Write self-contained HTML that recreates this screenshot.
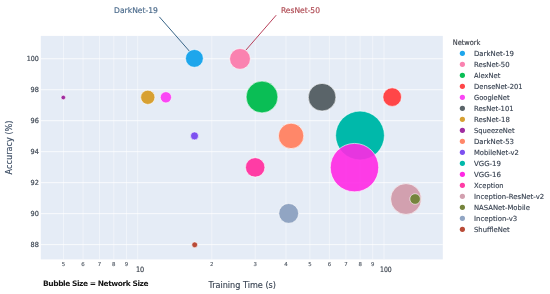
<!DOCTYPE html>
<html><head><meta charset="utf-8"><style>
html,body{margin:0;padding:0;background:#fff;width:550px;height:294px;overflow:hidden}
svg{display:block;filter:blur(0.35px);font-family:"DejaVu Sans","Liberation Sans",sans-serif}
</style></head><body>
<svg width="550" height="294" viewBox="0 0 550 294">
<rect x="0" y="0" width="550" height="294" fill="#fff"/>
<rect x="40.8" y="35.9" width="402.0" height="223.5" fill="#e5ecf6"/>
<line x1="63.56" y1="35.9" x2="63.56" y2="259.4" stroke="#fff" stroke-opacity="0.6" stroke-width="0.75"/>
<line x1="83.06" y1="35.9" x2="83.06" y2="259.4" stroke="#fff" stroke-opacity="0.6" stroke-width="0.75"/>
<line x1="99.55" y1="35.9" x2="99.55" y2="259.4" stroke="#fff" stroke-opacity="0.6" stroke-width="0.75"/>
<line x1="113.83" y1="35.9" x2="113.83" y2="259.4" stroke="#fff" stroke-opacity="0.6" stroke-width="0.75"/>
<line x1="126.43" y1="35.9" x2="126.43" y2="259.4" stroke="#fff" stroke-opacity="0.6" stroke-width="0.75"/>
<line x1="137.70" y1="35.9" x2="137.70" y2="259.4" stroke="#fff" stroke-opacity="0.6" stroke-width="0.75"/>
<line x1="211.84" y1="35.9" x2="211.84" y2="259.4" stroke="#fff" stroke-opacity="0.6" stroke-width="0.75"/>
<line x1="255.21" y1="35.9" x2="255.21" y2="259.4" stroke="#fff" stroke-opacity="0.6" stroke-width="0.75"/>
<line x1="285.99" y1="35.9" x2="285.99" y2="259.4" stroke="#fff" stroke-opacity="0.6" stroke-width="0.75"/>
<line x1="309.86" y1="35.9" x2="309.86" y2="259.4" stroke="#fff" stroke-opacity="0.6" stroke-width="0.75"/>
<line x1="329.36" y1="35.9" x2="329.36" y2="259.4" stroke="#fff" stroke-opacity="0.6" stroke-width="0.75"/>
<line x1="345.85" y1="35.9" x2="345.85" y2="259.4" stroke="#fff" stroke-opacity="0.6" stroke-width="0.75"/>
<line x1="360.13" y1="35.9" x2="360.13" y2="259.4" stroke="#fff" stroke-opacity="0.6" stroke-width="0.75"/>
<line x1="372.73" y1="35.9" x2="372.73" y2="259.4" stroke="#fff" stroke-opacity="0.6" stroke-width="0.75"/>
<line x1="384.00" y1="35.9" x2="384.00" y2="259.4" stroke="#fff" stroke-opacity="0.6" stroke-width="0.75"/>
<line x1="40.8" y1="58.75" x2="442.8" y2="58.75" stroke="#fff" stroke-opacity="0.85" stroke-width="0.9"/>
<line x1="40.8" y1="89.73" x2="442.8" y2="89.73" stroke="#fff" stroke-opacity="0.85" stroke-width="0.9"/>
<line x1="40.8" y1="120.71" x2="442.8" y2="120.71" stroke="#fff" stroke-opacity="0.85" stroke-width="0.9"/>
<line x1="40.8" y1="151.69" x2="442.8" y2="151.69" stroke="#fff" stroke-opacity="0.85" stroke-width="0.9"/>
<line x1="40.8" y1="182.67" x2="442.8" y2="182.67" stroke="#fff" stroke-opacity="0.85" stroke-width="0.9"/>
<line x1="40.8" y1="213.65" x2="442.8" y2="213.65" stroke="#fff" stroke-opacity="0.85" stroke-width="0.9"/>
<line x1="40.8" y1="244.63" x2="442.8" y2="244.63" stroke="#fff" stroke-opacity="0.85" stroke-width="0.9"/>
<line x1="159.3" y1="16.8" x2="190.5" y2="52.4" stroke="#3a6688" stroke-width="1.0"/>
<line x1="276.2" y1="15.2" x2="245.1" y2="51" stroke="#b8405a" stroke-width="1.0"/>
<circle cx="194.4" cy="58.4" r="8.90" fill="#1ea6ec" fill-opacity="1" stroke="#fff" stroke-opacity="0.75" stroke-width="0.8"/>
<circle cx="240.0" cy="58.9" r="10.40" fill="#fa82b0" fill-opacity="1" stroke="#fff" stroke-opacity="0.75" stroke-width="0.8"/>
<circle cx="262.0" cy="97.0" r="15.90" fill="#0abe55" fill-opacity="1" stroke="#fff" stroke-opacity="0.75" stroke-width="0.8"/>
<circle cx="392.2" cy="97.1" r="9.30" fill="#ff4648" fill-opacity="1" stroke="#fff" stroke-opacity="0.75" stroke-width="0.8"/>
<circle cx="165.9" cy="97.3" r="5.60" fill="#fa46f5" fill-opacity="1" stroke="#fff" stroke-opacity="0.75" stroke-width="0.8"/>
<circle cx="322.1" cy="97.2" r="13.80" fill="#5a6469" fill-opacity="1" stroke="#fff" stroke-opacity="0.75" stroke-width="0.8"/>
<circle cx="147.8" cy="97.3" r="7.10" fill="#d7a032" fill-opacity="1" stroke="#fff" stroke-opacity="0.75" stroke-width="0.8"/>
<circle cx="63.3" cy="97.5" r="2.30" fill="#a02da0" fill-opacity="1" stroke="#fff" stroke-opacity="0.75" stroke-width="0.8"/>
<circle cx="291.1" cy="135.9" r="12.70" fill="#ff8769" fill-opacity="1" stroke="#fff" stroke-opacity="0.75" stroke-width="0.8"/>
<circle cx="194.5" cy="135.9" r="4.00" fill="#7d50f0" fill-opacity="1" stroke="#fff" stroke-opacity="0.75" stroke-width="0.8"/>
<circle cx="360.0" cy="135.5" r="24.40" fill="#00b9aa" fill-opacity="1" stroke="#fff" stroke-opacity="0.75" stroke-width="0.8"/>
<circle cx="354.5" cy="167.6" r="24.20" fill="#ff28e4" fill-opacity="0.9" stroke="#fff" stroke-opacity="0.75" stroke-width="0.8"/>
<circle cx="255.2" cy="167.4" r="9.70" fill="#ff3ca5" fill-opacity="1" stroke="#fff" stroke-opacity="0.75" stroke-width="0.8"/>
<circle cx="406.0" cy="199.0" r="15.40" fill="#d2a0af" fill-opacity="1" stroke="#fff" stroke-opacity="0.75" stroke-width="0.8"/>
<circle cx="415.1" cy="199.0" r="5.30" fill="#75843c" fill-opacity="1" stroke="#fff" stroke-opacity="0.75" stroke-width="0.8"/>
<circle cx="288.7" cy="213.4" r="9.90" fill="#91a5c3" fill-opacity="1" stroke="#fff" stroke-opacity="0.75" stroke-width="0.8"/>
<circle cx="194.7" cy="244.8" r="2.90" fill="#b94b37" fill-opacity="1" stroke="#fff" stroke-opacity="0.75" stroke-width="0.8"/>
<text x="114.1" y="13.1" font-size="7.9" fill="#4f6e8e" stroke="#4f6e8e" stroke-width="0.2" textLength="43.8" lengthAdjust="spacingAndGlyphs">DarkNet-19</text>
<text x="280.9" y="13.1" font-size="7.9" fill="#b04c55" stroke="#b04c55" stroke-width="0.2" textLength="39.1" lengthAdjust="spacingAndGlyphs">ResNet-50</text>
<text x="38.9" y="61.35" font-size="7.0" fill="#454e5a" stroke="#454e5a" stroke-width="0.22" text-anchor="end" textLength="12.1" lengthAdjust="spacingAndGlyphs">100</text>
<text x="38.9" y="92.33" font-size="7.0" fill="#454e5a" stroke="#454e5a" stroke-width="0.22" text-anchor="end" textLength="8.3" lengthAdjust="spacingAndGlyphs">98</text>
<text x="38.9" y="123.31" font-size="7.0" fill="#454e5a" stroke="#454e5a" stroke-width="0.22" text-anchor="end" textLength="8.3" lengthAdjust="spacingAndGlyphs">96</text>
<text x="38.9" y="154.29" font-size="7.0" fill="#454e5a" stroke="#454e5a" stroke-width="0.22" text-anchor="end" textLength="8.3" lengthAdjust="spacingAndGlyphs">94</text>
<text x="38.9" y="185.27" font-size="7.0" fill="#454e5a" stroke="#454e5a" stroke-width="0.22" text-anchor="end" textLength="8.3" lengthAdjust="spacingAndGlyphs">92</text>
<text x="38.9" y="216.25" font-size="7.0" fill="#454e5a" stroke="#454e5a" stroke-width="0.22" text-anchor="end" textLength="8.3" lengthAdjust="spacingAndGlyphs">90</text>
<text x="38.9" y="247.23" font-size="7.0" fill="#454e5a" stroke="#454e5a" stroke-width="0.22" text-anchor="end" textLength="8.3" lengthAdjust="spacingAndGlyphs">88</text>
<text x="63.56" y="266.3" font-size="5.4" fill="#4c5560" stroke="#4c5560" stroke-width="0.12" text-anchor="middle">5</text>
<text x="83.06" y="266.3" font-size="5.4" fill="#4c5560" stroke="#4c5560" stroke-width="0.12" text-anchor="middle">6</text>
<text x="99.55" y="266.3" font-size="5.4" fill="#4c5560" stroke="#4c5560" stroke-width="0.12" text-anchor="middle">7</text>
<text x="113.83" y="266.3" font-size="5.4" fill="#4c5560" stroke="#4c5560" stroke-width="0.12" text-anchor="middle">8</text>
<text x="126.43" y="266.3" font-size="5.4" fill="#4c5560" stroke="#4c5560" stroke-width="0.12" text-anchor="middle">9</text>
<text x="211.84" y="266.3" font-size="5.4" fill="#4c5560" stroke="#4c5560" stroke-width="0.12" text-anchor="middle">2</text>
<text x="255.21" y="266.3" font-size="5.4" fill="#4c5560" stroke="#4c5560" stroke-width="0.12" text-anchor="middle">3</text>
<text x="285.99" y="266.3" font-size="5.4" fill="#4c5560" stroke="#4c5560" stroke-width="0.12" text-anchor="middle">4</text>
<text x="309.86" y="266.3" font-size="5.4" fill="#4c5560" stroke="#4c5560" stroke-width="0.12" text-anchor="middle">5</text>
<text x="329.36" y="266.3" font-size="5.4" fill="#4c5560" stroke="#4c5560" stroke-width="0.12" text-anchor="middle">6</text>
<text x="345.85" y="266.3" font-size="5.4" fill="#4c5560" stroke="#4c5560" stroke-width="0.12" text-anchor="middle">7</text>
<text x="360.13" y="266.3" font-size="5.4" fill="#4c5560" stroke="#4c5560" stroke-width="0.12" text-anchor="middle">8</text>
<text x="372.73" y="266.3" font-size="5.4" fill="#4c5560" stroke="#4c5560" stroke-width="0.12" text-anchor="middle">9</text>
<text x="140.10" y="271.8" font-size="7.4" fill="#333b46" stroke="#333b46" stroke-width="0.15" text-anchor="middle" textLength="8.3" lengthAdjust="spacingAndGlyphs">10</text>
<text x="385.90" y="271.8" font-size="7.4" fill="#333b46" stroke="#333b46" stroke-width="0.15" text-anchor="middle" textLength="11.8" lengthAdjust="spacingAndGlyphs">100</text>
<text x="208.4" y="287.6" font-size="8.9" fill="#3a4453" stroke="#3a4453" stroke-width="0.15" textLength="67.6" lengthAdjust="spacingAndGlyphs">Training Time (s)</text>
<text x="0" y="0" font-size="8.2" fill="#3c4d64" stroke="#3c4d64" stroke-width="0.15" textLength="53.9" lengthAdjust="spacingAndGlyphs" transform="translate(11.9,174.4) rotate(-90)">Accuracy (%)</text>
<text x="43.1" y="286.0" font-family="DejaVu Sans,sans-serif" font-size="7.5" font-weight="bold" fill="#151515" textLength="105.4" lengthAdjust="spacing">Bubble Size = Network Size</text>
<text x="452.7" y="44.9" font-size="7.4" fill="#3a3f48" stroke="#3a3f48" stroke-width="0.15" textLength="27.7" lengthAdjust="spacingAndGlyphs">Network</text>
<circle cx="462.4" cy="53.30" r="2.6" fill="#1ea6ec"/>
<text x="474" y="55.60" font-size="7.0" fill="#3a4453" stroke="#3a4453" stroke-width="0.15" textLength="40.0" lengthAdjust="spacingAndGlyphs">DarkNet-19</text>
<circle cx="462.4" cy="64.30" r="2.6" fill="#fa82b0"/>
<text x="474" y="66.60" font-size="7.0" fill="#3a4453" stroke="#3a4453" stroke-width="0.15" textLength="35.6" lengthAdjust="spacingAndGlyphs">ResNet-50</text>
<circle cx="462.4" cy="75.30" r="2.6" fill="#0abe55"/>
<text x="474" y="77.60" font-size="7.0" fill="#3a4453" stroke="#3a4453" stroke-width="0.15" textLength="26.3" lengthAdjust="spacingAndGlyphs">AlexNet</text>
<circle cx="462.4" cy="86.30" r="2.6" fill="#ff4648"/>
<text x="474" y="88.60" font-size="7.0" fill="#3a4453" stroke="#3a4453" stroke-width="0.15" textLength="48.6" lengthAdjust="spacingAndGlyphs">DenseNet-201</text>
<circle cx="462.4" cy="97.30" r="2.6" fill="#fa46f5"/>
<text x="474" y="99.60" font-size="7.0" fill="#3a4453" stroke="#3a4453" stroke-width="0.15" textLength="35.6" lengthAdjust="spacingAndGlyphs">GoogleNet</text>
<circle cx="462.4" cy="108.30" r="2.6" fill="#5a6469"/>
<text x="474" y="110.60" font-size="7.0" fill="#3a4453" stroke="#3a4453" stroke-width="0.15" textLength="39.6" lengthAdjust="spacingAndGlyphs">ResNet-101</text>
<circle cx="462.4" cy="119.30" r="2.6" fill="#d7a032"/>
<text x="474" y="121.60" font-size="7.0" fill="#3a4453" stroke="#3a4453" stroke-width="0.15" textLength="35.8" lengthAdjust="spacingAndGlyphs">ResNet-18</text>
<circle cx="462.4" cy="130.30" r="2.6" fill="#a02da0"/>
<text x="474" y="132.60" font-size="7.0" fill="#3a4453" stroke="#3a4453" stroke-width="0.15" textLength="40.6" lengthAdjust="spacingAndGlyphs">SqueezeNet</text>
<circle cx="462.4" cy="141.30" r="2.6" fill="#ff8769"/>
<text x="474" y="143.60" font-size="7.0" fill="#3a4453" stroke="#3a4453" stroke-width="0.15" textLength="40.0" lengthAdjust="spacingAndGlyphs">DarkNet-53</text>
<circle cx="462.4" cy="152.30" r="2.6" fill="#7d50f0"/>
<text x="474" y="154.60" font-size="7.0" fill="#3a4453" stroke="#3a4453" stroke-width="0.15" textLength="44.8" lengthAdjust="spacingAndGlyphs">MobileNet-v2</text>
<circle cx="462.4" cy="163.30" r="2.6" fill="#00b9aa"/>
<text x="474" y="165.60" font-size="7.0" fill="#3a4453" stroke="#3a4453" stroke-width="0.15" textLength="27.0" lengthAdjust="spacingAndGlyphs">VGG-19</text>
<circle cx="462.4" cy="174.30" r="2.6" fill="#ff28e4"/>
<text x="474" y="176.60" font-size="7.0" fill="#3a4453" stroke="#3a4453" stroke-width="0.15" textLength="27.0" lengthAdjust="spacingAndGlyphs">VGG-16</text>
<circle cx="462.4" cy="185.30" r="2.6" fill="#ff3ca5"/>
<text x="474" y="187.60" font-size="7.0" fill="#3a4453" stroke="#3a4453" stroke-width="0.15" textLength="29.6" lengthAdjust="spacingAndGlyphs">Xception</text>
<circle cx="462.4" cy="196.30" r="2.6" fill="#d2a0af"/>
<text x="474" y="198.60" font-size="7.0" fill="#3a4453" stroke="#3a4453" stroke-width="0.15" textLength="70.2" lengthAdjust="spacingAndGlyphs">Inception-ResNet-v2</text>
<circle cx="462.4" cy="207.30" r="2.6" fill="#75843c"/>
<text x="474" y="209.60" font-size="7.0" fill="#3a4453" stroke="#3a4453" stroke-width="0.15" textLength="55.9" lengthAdjust="spacingAndGlyphs">NASANet-Mobile</text>
<circle cx="462.4" cy="218.30" r="2.6" fill="#91a5c3"/>
<text x="474" y="220.60" font-size="7.0" fill="#3a4453" stroke="#3a4453" stroke-width="0.15" textLength="43.2" lengthAdjust="spacingAndGlyphs">Inception-v3</text>
<circle cx="462.4" cy="229.30" r="2.6" fill="#b94b37"/>
<text x="474" y="231.60" font-size="7.0" fill="#3a4453" stroke="#3a4453" stroke-width="0.15" textLength="35.7" lengthAdjust="spacingAndGlyphs">ShuffleNet</text>
</svg>
</body></html>
